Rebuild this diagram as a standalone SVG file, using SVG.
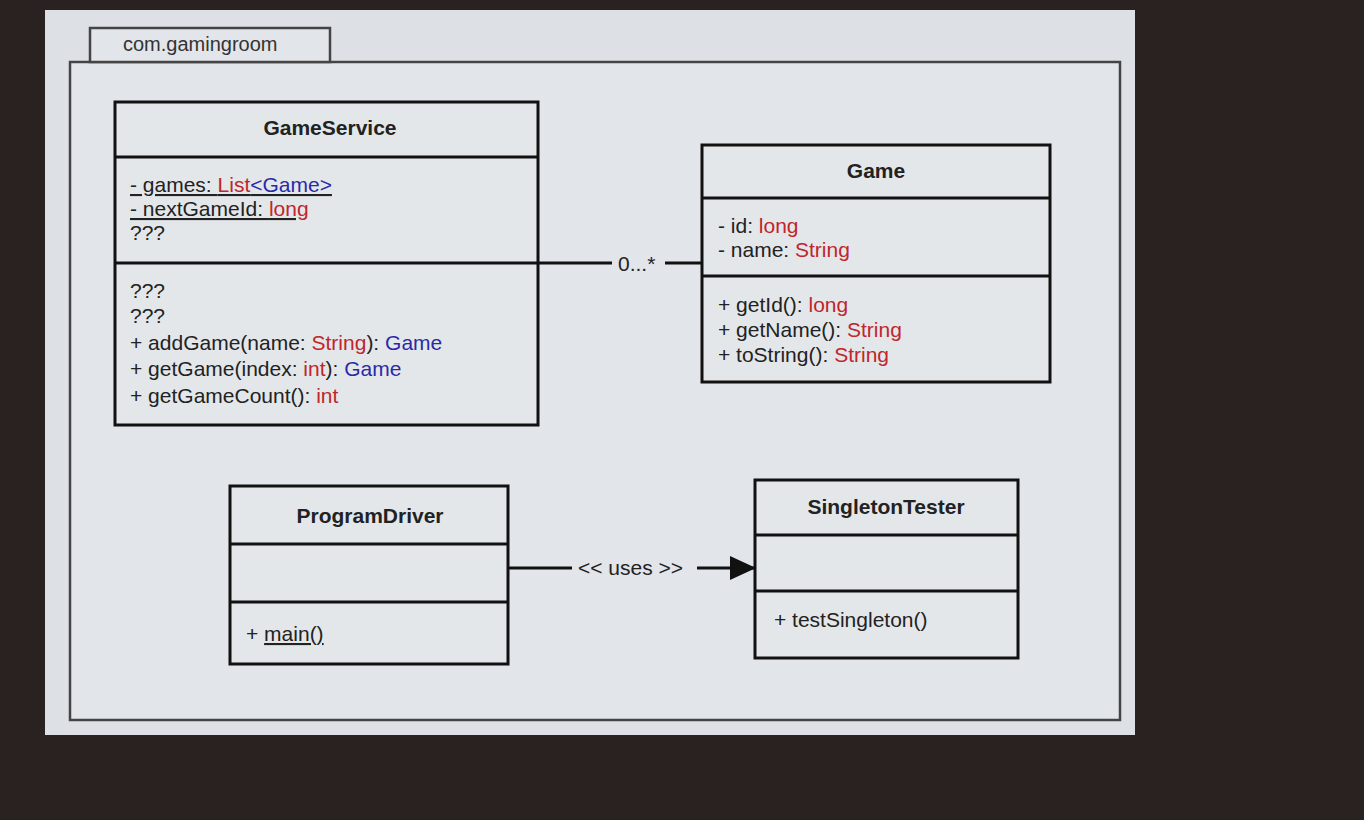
<svg xmlns="http://www.w3.org/2000/svg" width="1364" height="820" viewBox="0 0 1364 820">
<style>
.box{fill:#e4e7ea;stroke:#111;stroke-width:3}
.ln{stroke:#111;stroke-width:3}
.t{font-family:"Liberation Sans",Arial,sans-serif;font-size:21px;fill:#222}
.h{font-family:"Liberation Sans",Arial,sans-serif;font-size:21px;font-weight:bold;fill:#222;text-anchor:middle}
.r{fill:#c0262a}.b{fill:#2a2aa8}
</style>
<defs><marker id="arr" markerWidth="26" markerHeight="24" refX="25" refY="12" orient="auto" markerUnits="userSpaceOnUse"><path d="M0,0 L26,12 L0,24 Z" fill="#111"/></marker></defs>
<rect width="1364" height="820" fill="#2a2220"/>
<rect x="45" y="10" width="1090" height="725" fill="#dde1e6"/>
<g id="package">
<rect x="70" y="62" width="1050" height="658" fill="#e2e5e9" stroke="#444" stroke-width="2.5"/>
<rect x="90" y="28" width="240" height="34" fill="#e2e5e9" stroke="#444" stroke-width="2.5"/>
<text x="123" y="51" class="t" style="font-size:20px;fill:#333">com.gamingroom</text>
</g>
<g id="GameService">
<rect class="box" x="115" y="102" width="423" height="323"/>
<line class="ln" x1="115" y1="157" x2="538" y2="157"/>
<line class="ln" x1="115" y1="263" x2="538" y2="263"/>
<text class="h" x="330" y="135">GameService</text>
<text class="t" x="130" y="192" text-decoration="underline">- games: <tspan class="r">List</tspan><tspan class="b">&lt;Game&gt;</tspan></text>
<text class="t" x="130" y="216" text-decoration="underline">- nextGameId: <tspan class="r">long</tspan></text>
<text class="t" x="130" y="240">???</text>
<text class="t" x="130" y="298">???</text>
<text class="t" x="130" y="323">???</text>
<text class="t" x="130" y="350">+ addGame(name: <tspan class="r">String</tspan>): <tspan class="b">Game</tspan></text>
<text class="t" x="130" y="376">+ getGame(index: <tspan class="r">int</tspan>): <tspan class="b">Game</tspan></text>
<text class="t" x="130" y="403">+ getGameCount(): <tspan class="r">int</tspan></text>
</g>
<g id="Game">
<rect class="box" x="702" y="145" width="348" height="237"/>
<line class="ln" x1="702" y1="198" x2="1050" y2="198"/>
<line class="ln" x1="702" y1="276" x2="1050" y2="276"/>
<text class="h" x="876" y="178">Game</text>
<text class="t" x="718" y="233">- id: <tspan class="r">long</tspan></text>
<text class="t" x="718" y="257">- name: <tspan class="r">String</tspan></text>
<text class="t" x="718" y="312">+ getId(): <tspan class="r">long</tspan></text>
<text class="t" x="718" y="337">+ getName(): <tspan class="r">String</tspan></text>
<text class="t" x="718" y="362">+ toString(): <tspan class="r">String</tspan></text>
</g>
<g id="ProgramDriver">
<rect class="box" x="230" y="486" width="278" height="178"/>
<line class="ln" x1="230" y1="544" x2="508" y2="544"/>
<line class="ln" x1="230" y1="602" x2="508" y2="602"/>
<text class="h" x="370" y="523">ProgramDriver</text>
<text class="t" x="246" y="641">+ <tspan text-decoration="underline">main()</tspan></text>
</g>
<g id="SingletonTester">
<rect class="box" x="755" y="480" width="263" height="178"/>
<line class="ln" x1="755" y1="535" x2="1018" y2="535"/>
<line class="ln" x1="755" y1="591" x2="1018" y2="591"/>
<text class="h" x="886" y="514">SingletonTester</text>
<text class="t" x="774" y="627">+ testSingleton()</text>
</g>
<g id="connectors">
<line class="ln" x1="538" y1="263" x2="612" y2="263"/>
<line class="ln" x1="665" y1="263" x2="702" y2="263"/>
<text class="t" x="618" y="271">0...*</text>
<line class="ln" x1="508" y1="568" x2="572" y2="568"/>
<line class="ln" x1="697" y1="568" x2="755" y2="568" marker-end="url(#arr)"/>
<text class="t" x="578" y="575">&lt;&lt; uses &gt;&gt;</text>
</g>
</svg>
